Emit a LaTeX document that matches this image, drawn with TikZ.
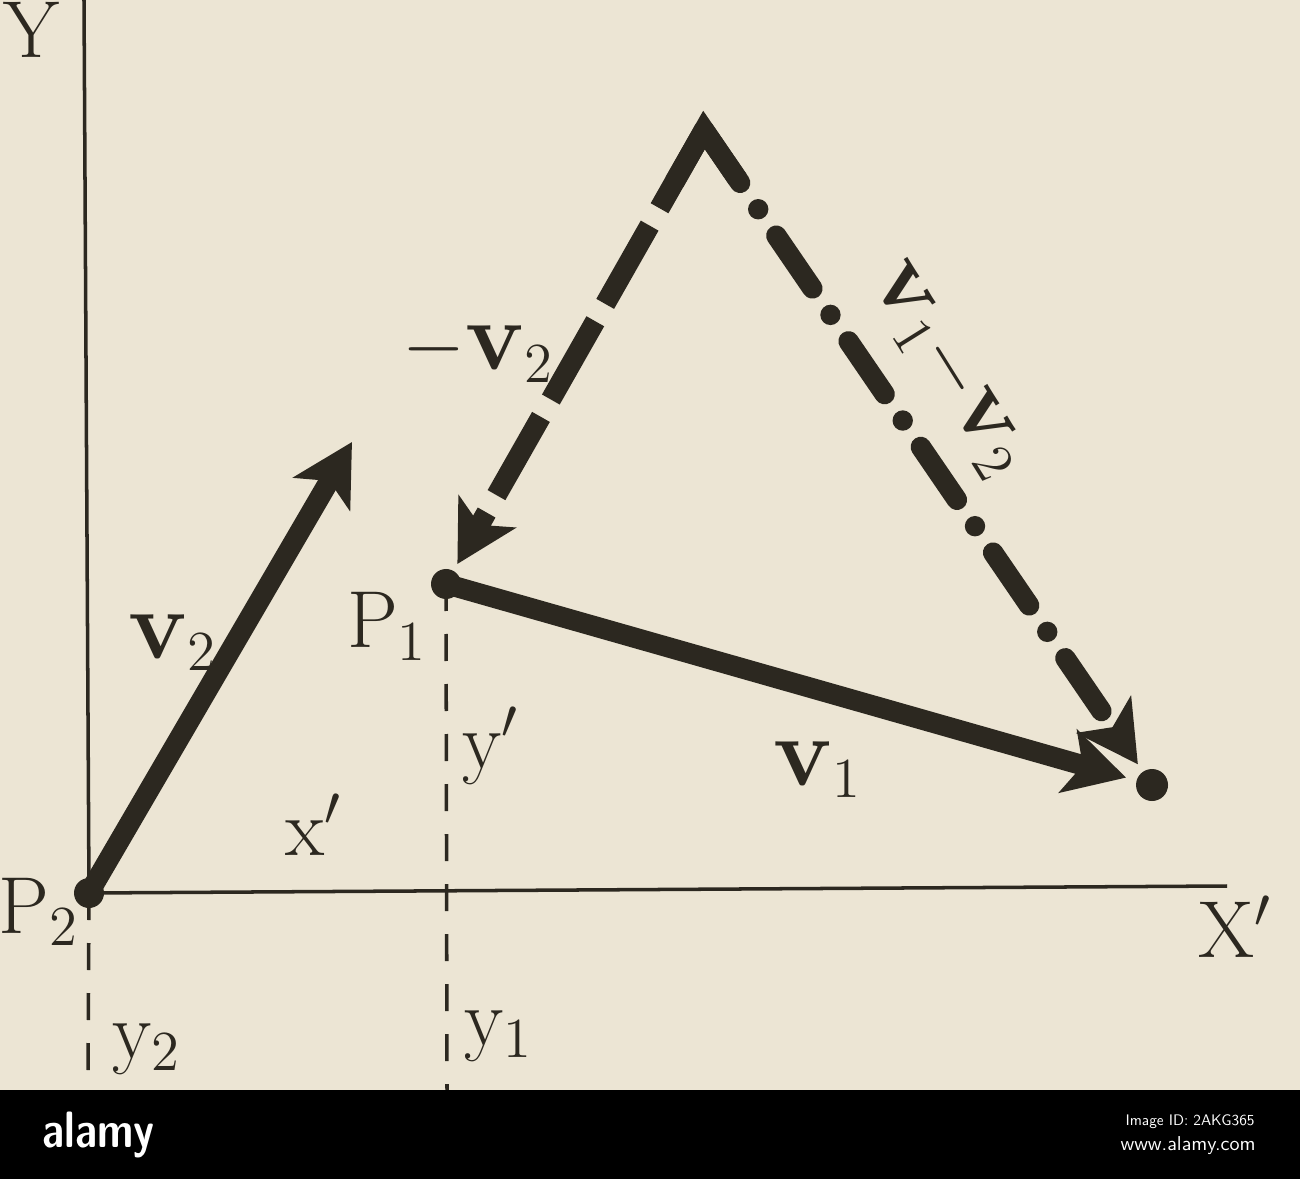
\RequirePackage{fix-cm}
\documentclass[tikz,border=0pt]{standalone}
\usepackage{graphicx}
\usetikzlibrary{arrows.meta,calc}
\definecolor{paper}{RGB}{236,229,212}
\definecolor{ink}{RGB}{44,40,32}
\newcommand\vb{\mbox{\fontsize{28}{28}\selectfont\bfseries v}}

\begin{document}
\begin{tikzpicture}[
  thinline/.style={ink,line width=1pt},
  heavy/.style={ink,line width=5.8pt},
  vechead/.style={-{Stealth[length=6mm,width=6.5mm,inset=1.5mm]}},
  lbl/.style={ink,inner sep=0pt,font=\fontsize{23}{27}\selectfont}
]
\fill[paper] (0,0) rectangle (13,-11.79);
\useasboundingbox (0,0) rectangle (13,-11.79);

% points
\coordinate (P2) at (0.89,-8.93);
\coordinate (P1) at (4.46,-5.84);
\coordinate (Q) at (11.52,-7.85);
\coordinate (A) at (7.04,-1.30);
\coordinate (V2) at (3.52,-4.42);
\coordinate (Ytop) at (0.84,0);
\coordinate (Xend) at (12.27,-8.86);
\coordinate (y2foot) at (0.88,-10.90);
\coordinate (y1foot) at (4.47,-10.90);

% axes and ordinates
\draw[thinline] (Ytop) -- (P2) -- (Xend);
\draw[thinline,dash pattern=on 2.7mm off 2.3mm] (P2) -- (y2foot);
\draw[thinline,dash pattern=on 2.7mm off 2.3mm] (P1) -- (y1foot);

% vectors
\draw[heavy,vechead] (P2) -- (V2);
\draw[heavy,vechead,shorten >=2.7mm] (P1) -- (Q);
\draw[heavy,vechead,dash pattern=on 9mm off 2mm,shorten >=2.3mm] (A) -- (P1);
\draw[heavy,vechead,line cap=round,dash pattern=on 6.4mm off 3.2mm on 0mm off 3.2mm,shorten >=2.5mm] (A) -- (Q);
\draw[heavy,line join=miter] ($(A)!6mm!(P1)$) -- (A) -- ($(A)!6mm!(Q)$);

\fill[ink] (P1) circle (1.5mm);
\fill[ink] (P2) circle (1.5mm);
\fill[ink] (Q) circle (1.6mm);

% labels
\node[lbl,anchor=base] (ylab) at (0.32,-0.58) {Y};
\node[lbl,anchor=base west] (xlab) at (11.98,-9.57) {X$'$};
\node[lbl,anchor=base west] (p2lab) at (-0.02,-9.33) {P$_2$};
\node[lbl,anchor=base east] (p1lab) at (4.28,-6.48) {P$_1$};
\node[lbl,anchor=base west] (yplab) at (4.62,-7.68) {y$'$};
\node[lbl,anchor=base west] (xplab) at (2.85,-8.55) {x$'$};
\node[lbl,anchor=base west] (y1lab) at (4.64,-10.45) {y$_1$};
\node[lbl,anchor=base west] (y2lab) at (1.12,-10.58) {y$_2$};
\node[lbl,anchor=base west] (v2lab) at (1.28,-6.58) {$\vb_2$};
\node[lbl,anchor=base west] (mv2lab) at (4.02,-3.70) {$-\vb_2$};
\node[lbl,anchor=base west] (v1lab) at (7.73,-7.85) {$\vb_1$};
\node[lbl,rotate=-58] (difflab) at (9.48,-3.70) {$\vb_1{-}\vb_2$};

% banner
\fill[black] (0,-10.90) rectangle (13,-11.79);
\node[white,anchor=west,inner sep=0pt] (logo) at (0.42,-11.35) {\resizebox*{1.12cm}{0.46cm}{\sffamily\bfseries alamy}};
\node[white,inner sep=0pt] (imgid) at (11.90,-11.22) {\resizebox{1.29cm}{!}{\sffamily Image ID: 2AKG365}};
\node[white,inner sep=0pt] (site) at (11.88,-11.46) {\resizebox{1.35cm}{!}{\sffamily www.alamy.com}};
\end{tikzpicture}
\end{document}
